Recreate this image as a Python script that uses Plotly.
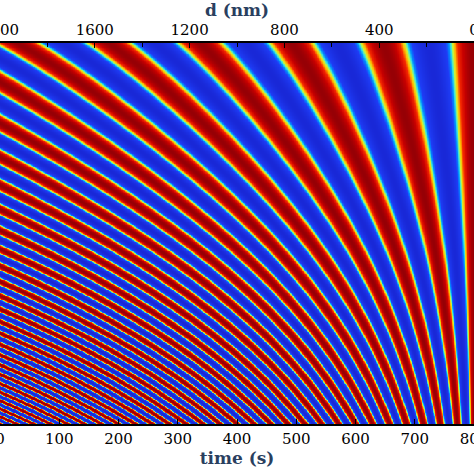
import numpy as np
import plotly.graph_objects as go

# time axis (s) and film thickness (nm): thickness falls linearly from 2000 to 0 over 800 s
time_s = np.linspace(0, 800, 700)
d_start_nm, d_end_nm = 2000.0, 0.0
# fringe spatial frequency (cycles per micrometre of thickness) read at rows top -> bottom
row_pos = [0.0, 0.25, 0.5, 0.75, 1.0]
fringe_freq = [2.6, 3.7, 5.6, 8.8, 14.0]
n_rows = 500

top_ticks = [2000, 1600, 1200, 800, 400, 0]
minor_top = [1800, 1400, 1000, 600, 200]
bottom_ticks = [0, 100, 200, 300, 400, 500, 600, 700, 800]

rows = np.linspace(0, 1, n_rows)
coef = np.polyfit(row_pos, fringe_freq, 3)
freq = np.polyval(coef, rows)  # cycles per um
d_nm = d_start_nm + (d_end_nm - d_start_nm) * time_s / 800.0
z = np.cos(2 * np.pi * np.outer(freq, d_nm) / 1000.0)

cs = [[0, "rgb(25,40,215)"], [0.3, "rgb(30,60,245)"], [0.4, "rgb(0,140,255)"],
      [0.47, "rgb(60,230,220)"], [0.53, "rgb(200,245,60)"], [0.6, "rgb(255,190,0)"],
      [0.7, "rgb(245,40,0)"], [0.85, "rgb(200,0,0)"], [1, "rgb(150,0,5)"]]

fig = go.Figure()
fig.add_trace(go.Heatmap(x=time_s, y=rows, z=z, colorscale=cs, showscale=False,
                         zsmooth="best"))
fig.add_trace(go.Scatter(x=[d_start_nm, d_end_nm], y=[0, 0], xaxis="x2", mode="markers",
                         marker=dict(opacity=0), showlegend=False, hoverinfo="skip"))

t0, t1 = 0, 800
font = dict(family="DejaVu Serif", size=15, color="black")
fig.update_layout(
    width=474, height=474, margin=dict(l=0, r=0, t=43, b=50),
    paper_bgcolor="white", plot_bgcolor="white", showlegend=False,
    xaxis=dict(range=[t0, t1], tickvals=bottom_ticks, ticks="inside", ticklen=5,
               tickcolor="black", showline=True, linecolor="black", linewidth=2,
               tickfont=font, showgrid=False, zeroline=False, automargin=False,
               ticklabeloverflow="allow",
               tickprefix="<b>", ticksuffix="</b>",
               title=dict(text="<b>time (s)</b>", font=dict(family="DejaVu Serif", size=17), standoff=4)),
    xaxis2=dict(overlaying="x", side="top",
                range=[d_start_nm * (1 - t0 / 800), d_start_nm * (1 - t1 / 800)],
                tickvals=top_ticks, ticks="inside", ticklen=5, tickcolor="black",
                minor=dict(tickvals=minor_top, ticks="inside", ticklen=4, tickcolor="black"),
                showline=True, linecolor="black", linewidth=2, tickfont=font,
                tickprefix="<b>", ticksuffix="</b>", automargin=False,
                ticklabeloverflow="allow",
                showgrid=False, zeroline=False,
                title=dict(text="<b>d (nm)</b>", font=dict(family="DejaVu Serif", size=17), standoff=2)),
    yaxis=dict(range=[1, 0], visible=False, showgrid=False, automargin=False),
)
fig.write_html("out.html", config={"displayModeBar": False})
with open("out.html", encoding="utf-8") as f:
    html = f.read()
html = html.replace("<head>", "<head><style>html,body{margin:0;padding:0;overflow:hidden}</style>", 1)
with open("out.html", "w", encoding="utf-8") as f:
    f.write(html)
